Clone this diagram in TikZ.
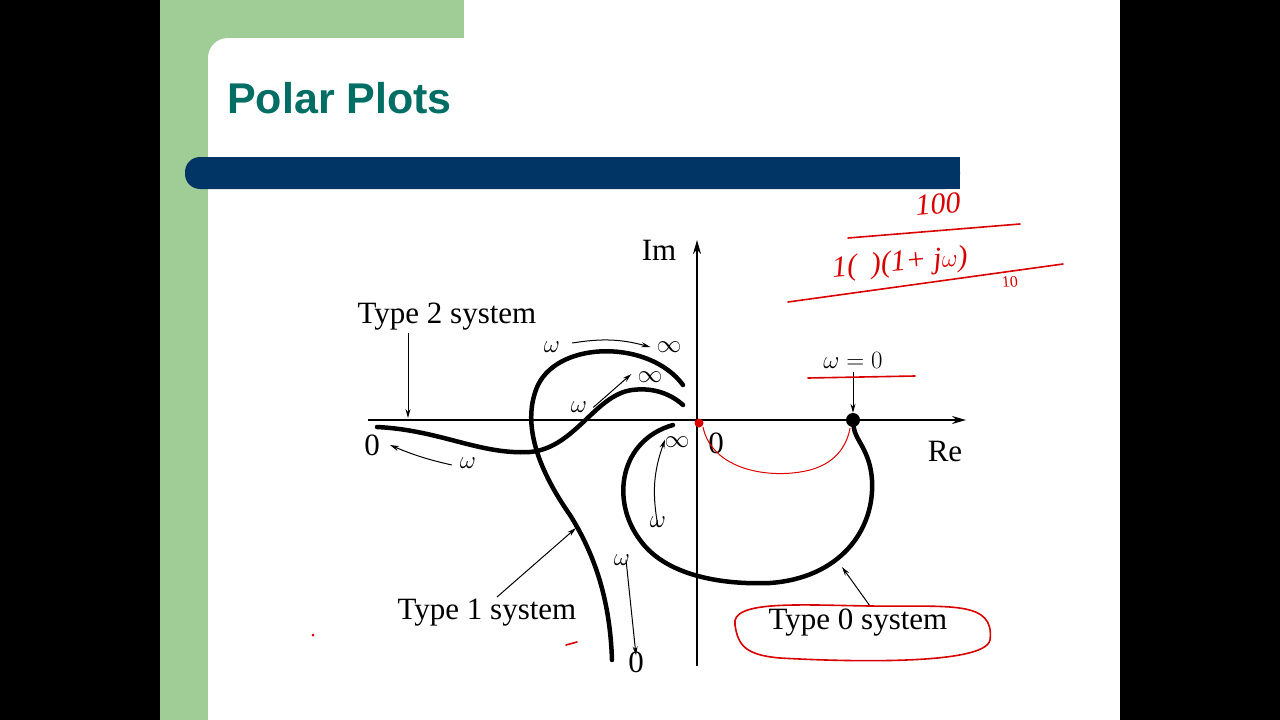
\documentclass[tikz,border=0pt]{standalone}
\usepackage{fontspec}
\setmainfont{Liberation Serif}
\newfontfamily\titlefont{Liberation Sans}
\usetikzlibrary{arrows.meta}
\definecolor{teal1}{RGB}{0,110,100}
\definecolor{navy1}{RGB}{0,53,102}
\definecolor{green1}{RGB}{160,205,150}
\tikzset{
 curve/.style={line width=4.5pt,line cap=round},
 ax/.style={line width=1.8pt,-{Stealth[length=14pt,width=8pt]}},
 lbl/.style={font=\fontsize{31}{33}\selectfont,inner sep=0pt},
 small/.style={line width=1pt,-{Stealth[length=9pt,width=5pt]}},
 red1/.style={draw=red!85!black,line width=1.6pt,line cap=round},
 hand/.style={text=red!85!black,font=\fontsize{30}{30}\selectfont\itshape,inner sep=0pt,rotate=5}
}
\begin{document}
\begin{tikzpicture}[x=1pt,y=-1pt]
\useasboundingbox (0,0) rectangle (1280,720);
\fill[black] (0,0) rectangle (1280,720);
\fill[white] (160,0) rectangle (1120,720);
\fill[green1] (160,0) rectangle (464,60);
\fill[green1] (160,0) rectangle (208,720);
\fill[white,rounded corners=20pt] (208,38) rectangle (1140,760);
\fill[black] (1120,0) rectangle (1280,720);
\node[anchor=west,text=teal1,font=\titlefont\bfseries\fontsize{43}{46}\selectfont,inner sep=0pt] (title) at (227,98) {Polar Plots};
\fill[navy1,rounded corners=15pt] (185,157) rectangle (960,189);
\fill[navy1] (900,157) rectangle (960,189);
% axes
\coordinate (reA) at (368,420); \coordinate (reB) at (966,420);
\coordinate (imA) at (697,666); \coordinate (imB) at (697,240);
\draw[ax] (reA) -- (reB);
\draw[ax] (imA) -- (imB);
\node[lbl] (im) at (659,250) {Im};
\node[lbl] (re) at (945,451) {Re};
% type 2
\draw[curve] (377,427) .. controls (440,430) and (480,455) .. (530,452)
  .. controls (575,448) and (595,395) .. (632,390) .. controls (655,387) and (672,395) .. (683,405);
% type 1
\draw[curve] (683,385) .. controls (650,340) and (560,340) .. (538,385)
  .. controls (522,420) and (535,465) .. (570,515) .. controls (595,555) and (610,600) .. (612,660);
% type 0
\node[circle,fill=black,minimum size=14pt,inner sep=0pt] (dot) at (853,420) {};
\draw[curve] (673,425) .. controls (620,440) and (610,500) .. (640,540)
  .. controls (665,575) and (720,585) .. (770,583) .. controls (840,578) and (875,530) .. (872,480)
  .. controls (870,450) and (855,440) .. (dot);
% labels
\node[lbl] (t2) at (447,317) {Type 2 system};
\coordinate (t2a) at (408,333); \coordinate (t2b) at (408,418);
\draw[small] (t2a) -- (t2b);
\node[lbl] (w1) at (552,347) {$\omega$};
\node[lbl] (i1) at (669,347) {$\infty$};
\draw[small] (w1.east) ++(12,-4) coordinate (w1s) (w1s) to[bend left=12] ([xshift=-6pt]i1.west);
\node[lbl] (w2) at (579,407) {$\omega$};
\node[lbl] (i2) at (650,377) {$\infty$};
\draw[small] ([xshift=6pt,yshift=-6pt]w2.north east) -- ([xshift=-6pt,yshift=3pt]i2.west);
\node[lbl] (z1) at (372,445) {0};
\node[lbl] (w3) at (468,463) {$\omega$};
\draw[small] ([xshift=-8pt,yshift=-2pt]w3.west) to[bend left=5] ([xshift=10pt]z1.east);
\node[lbl] (i3) at (677,442) {$\infty$};
\node[lbl] (z2) at (716,443) {0};
\node[lbl] (w4) at (658,522) {$\omega$};
\draw[small] ([yshift=-10pt]w4.north) to[bend left=15] ([xshift=-12pt,yshift=8pt]i3.south);
\node[lbl] (w5) at (622,560) {$\omega$};
\node[lbl] (z3) at (636,662) {0};
\draw[small] ([xshift=4pt,yshift=6pt]w5.south) -- ([yshift=-4pt]z3.north);
\node[lbl] (t1) at (487,613) {Type 1 system};
\coordinate (t1a) at (497,597); \coordinate (t1b) at (576,528);
\draw[small] (t1a) -- (t1b);
\node[lbl] (w0) at (853,360) {$\omega = 0$};
\draw[small] ([yshift=-4pt]w0.south) -- (dot.north);
\node[lbl] (t0) at (858,623) {Type 0 system};
\coordinate (t0a) at (870,606); \coordinate (t0b) at (842,567);
\draw[small] (t0a) -- (t0b);
% red annotations
\draw[red1] (808,378) -- (915,376);
\draw[red1] (735,625) .. controls (730,600) and (800,605) .. (870,606) .. controls (950,607) and (995,600) .. (990,640)
  .. controls (985,665) and (850,662) .. (780,658) .. controls (745,655) and (738,645) .. (735,625);
\draw[red!85!black,line width=1pt] (703,427) .. controls (712,470) and (770,480) .. (810,470) .. controls (840,462) and (848,440) .. (850,428);
\fill[red!85!black] (699,423) circle (4.5pt);
\fill[red!85!black] (313,635) circle (1.5pt);
\draw[red1] (566,645) -- (577,642);
\node[hand] (num) at (938,204) {100};
\coordinate (f1) at (848,238); \coordinate (f2) at (1020,224);
\draw[red1] (f1) -- (f2);
\node[hand] (den) at (900,264) {1(\hspace{14pt})(1+ j$\omega$)};
\node[hand,font=\fontsize{16}{16}\selectfont] (ten) at (1010,282) {10};
\coordinate (f3) at (788,302); \coordinate (f4) at (1063,264);
\draw[red1] (f3) -- (f4);
\end{tikzpicture}
\end{document}
